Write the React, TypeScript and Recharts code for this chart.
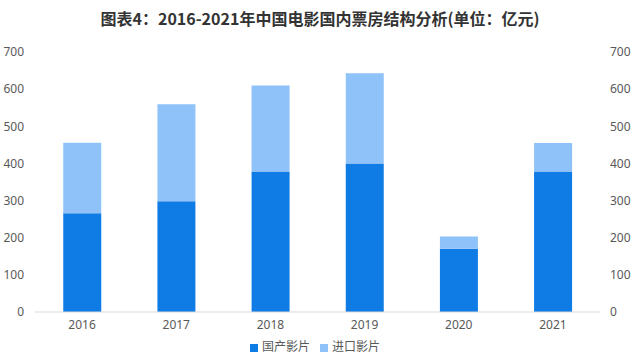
import { ComposedChart, Bar, Line, XAxis, YAxis, Legend } from 'recharts';

const years = ['2016', '2017', '2018', '2019', '2020', '2021'];
const domestic = [266, 298, 378, 400, 170, 378];
const imported = [190, 261, 232, 243, 33, 77];
const yTicks = [0, 100, 200, 300, 400, 500, 600, 700];

const data = years.map((year, i) => ({
  year,
  domestic: domestic[i],
  imported: imported[i],
}));

const tickStyle = { fill: '#595959', fontSize: 12, fontFamily: 'Noto Sans, sans-serif' };

export default function App() {
  return (
    <div style={{ position: 'absolute', left: 0, top: 0, width: 640, height: 353, background: '#fff', overflow: 'hidden' }}>
      <div
        style={{
          position: 'absolute', top: 6, left: 0, width: 640, textAlign: 'center',
          fontFamily: '"Noto Sans CJK SC", sans-serif', fontWeight: 'bold', fontSize: 16, color: '#333',
        }}
      >
        图表4：2016-2021年中国电影国内票房结构分析(单位：亿元)
      </div>
      <ComposedChart
        width={640}
        height={353}
        data={data}
        margin={{ top: 52, right: 0, bottom: 6, left: 0 }}
        barCategoryGap="30%"
      >
        <XAxis
          dataKey="year"
          tick={tickStyle}
          tickLine={false}
          axisLine={{ stroke: '#d9d9d9' }}
          height={21}
          tickMargin={2}
        />
        <YAxis
          yAxisId="left"
          orientation="left"
          domain={[0, 700]}
          ticks={yTicks}
          width={35}
          tick={tickStyle}
          tickLine={false}
          axisLine={false}
          tickMargin={5}
        />
        <YAxis
          yAxisId="right"
          orientation="right"
          domain={[0, 700]}
          ticks={yTicks}
          width={40}
          tick={tickStyle}
          tickLine={false}
          axisLine={false}
          tickMargin={4}
        />
        <Legend
          verticalAlign="bottom"
          iconType="square"
          iconSize={8}
          formatter={(value) => <span style={{ color: '#595959' }}>{value}</span>}
          wrapperStyle={{ fontSize: 12, lineHeight: '14px', fontFamily: '"Noto Sans CJK SC", sans-serif', bottom: 0 }}
        />
        <Bar yAxisId="left" dataKey="domestic" name="国产影片" stackId="a" fill="#0F7BE5" isAnimationActive={false} />
        <Bar yAxisId="left" dataKey="imported" name="进口影片" stackId="a" fill="#8EC2F8" isAnimationActive={false} />
        <Line
          yAxisId="right"
          dataKey="domestic"
          stroke="none"
          dot={false}
          activeDot={false}
          legendType="none"
          isAnimationActive={false}
        />
      </ComposedChart>
    </div>
  );
}
